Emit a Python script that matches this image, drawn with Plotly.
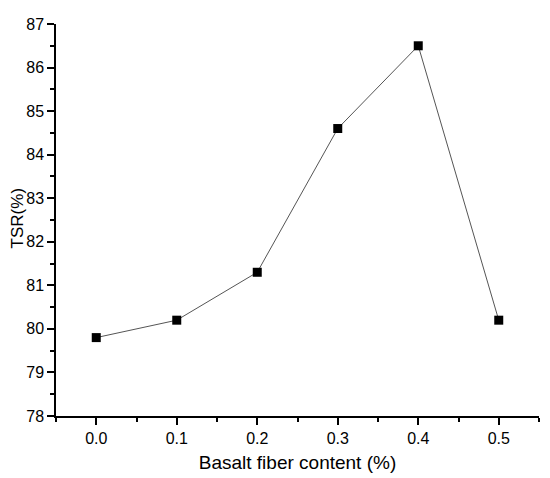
import plotly.graph_objects as go

fiber_content = [0.0, 0.1, 0.2, 0.3, 0.4, 0.5]
tsr = [79.8, 80.2, 81.3, 84.6, 86.5, 80.2]

fig = go.Figure()

fig.add_trace(go.Scatter(
    x=fiber_content,
    y=tsr,
    mode='lines+markers',
    line=dict(color='#555555', width=1),
    marker=dict(symbol='square', size=9, color='black'),
))

axis_common = dict(
    showline=True,
    linecolor='black',
    linewidth=1.5,
    ticks='outside',
    ticklen=7,
    tickwidth=1.5,
    tickcolor='black',
    showgrid=False,
    zeroline=False,
    automargin=False,
    tickfont=dict(family='Liberation Sans, Arial', size=16, color='black'),
)

# page body adds an 8px offset, so margins are shifted to compensate
fig.update_layout(
    width=550,
    height=478,
    plot_bgcolor='white',
    paper_bgcolor='white',
    showlegend=False,
    margin=dict(l=48, r=19, t=16, b=70),
    xaxis=dict(
        range=[-0.05, 0.55],
        tickvals=fiber_content,
        ticktext=['0.0', '0.1', '0.2', '0.3', '0.4', '0.5'],
        title=dict(text='Basalt fiber content (%)', standoff=10,
                   font=dict(family='Liberation Sans, Arial', size=19, color='black')),
        minor=dict(ticks='outside', dtick=0.05, tick0=-0.05, ticklen=4, tickwidth=1.5, tickcolor='black'),
        **axis_common,
    ),
    yaxis=dict(
        range=[78, 87],
        dtick=1,
        minor=dict(ticks='outside', dtick=0.5, ticklen=4, tickwidth=1.5, tickcolor='black'),
        **axis_common,
    ),
    annotations=[dict(
        text='TSR(%)', textangle=-90,
        xref='paper', yref='paper', x=-0.08, y=0.505,
        xanchor='center', yanchor='middle', showarrow=False,
        font=dict(family='Liberation Sans, Arial', size=17, color='black'),
    )],
)

fig.write_html("out.html")
